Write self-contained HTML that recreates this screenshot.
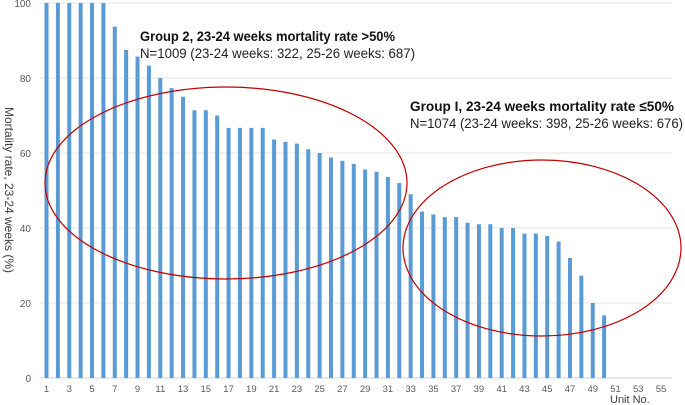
<!DOCTYPE html>
<html><head><meta charset="utf-8"><style>
body{margin:0;background:#fff}
svg{display:block;font-family:"Liberation Sans",sans-serif}
</style></head><body>
<svg id="c" width="685" height="405">
<g id="grid"></g><g id="bars"></g><g id="ticks"></g>
<text transform="translate(5,190) rotate(90)" text-anchor="middle" font-size="12" fill="#404040">Mortality rate, 23-24 weeks (%)</text>
<text x="610" y="403" font-size="11" fill="#404040">Unit No.</text>
<ellipse cx="226" cy="183" rx="181" ry="96" fill="none" stroke="#c00000" stroke-width="1.2"/>
<ellipse cx="542" cy="248" rx="139" ry="88" fill="none" stroke="#c00000" stroke-width="1.2"/>
<text x="140" y="41" font-size="14" font-weight="bold" fill="#111" textLength="255" lengthAdjust="spacingAndGlyphs">Group 2, 23-24 weeks mortality rate &gt;50%</text>
<text x="140" y="58" font-size="13.5" fill="#222" textLength="275" lengthAdjust="spacingAndGlyphs">N=1009 (23-24 weeks: 322, 25-26 weeks: 687)</text>
<text x="410" y="111" font-size="14" font-weight="bold" fill="#111" textLength="264" lengthAdjust="spacingAndGlyphs">Group I, 23-24 weeks mortality rate ≤50%</text>
<text x="410" y="128" font-size="13.5" fill="#222" textLength="273" lengthAdjust="spacingAndGlyphs">N=1074 (23-24 weeks: 398, 25-26 weeks: 676)</text>
</svg>
<script>
const units=[];for(let i=1;i<=55;i++)units.push(i);
const values=[100,100,100,100,100,100,93.7,87.5,85.7,83.3,80,77.3,75,71.4,71.4,70,66.7,66.7,66.7,66.7,63.6,63,62.5,61,60,58.8,57.9,57.1,55.6,55,53.6,52,49,44.4,43.6,42.9,42.9,41.4,41,41,40,40,38.5,38.5,37.9,36.4,32,27.3,20,16.7];
const yTicks=[0,20,40,60,80,100];
const NS="http://www.w3.org/2000/svg";
const x=u=>46.5+(u-1)*11.38;
const y=v=>378-v*3.75;
function mk(t,a,p){const e=document.createElementNS(NS,t);for(const k in a)e.setAttribute(k,a[k]);document.getElementById(p).appendChild(e);return e;}
yTicks.forEach(t=>{
 const l=mk('line',{x1:40,x2:672,y1:y(t),y2:y(t),stroke:t===0?'#d0d0d0':'#e4e4e4','stroke-width':1},'grid');
 
 
 const tx=mk('text',{x:31,y:y(t)+4,'text-anchor':'end','font-size':10,fill:'#595959'},'ticks');tx.textContent=t;
 
 
});
values.forEach((v,i)=>{
 const r=mk('rect',{x:x(units[i])-2,y:y(v),width:4,height:y(0)-y(v),fill:'#5b9bd5'},'bars');
 
 
});
units.forEach(u=>{if(u%2===1){
 const t=mk('text',{x:x(u),y:392,'text-anchor':'middle','font-size':9.5,fill:'#595959'},'ticks');t.textContent=u;
 
 
}});
</script>
</body></html>
